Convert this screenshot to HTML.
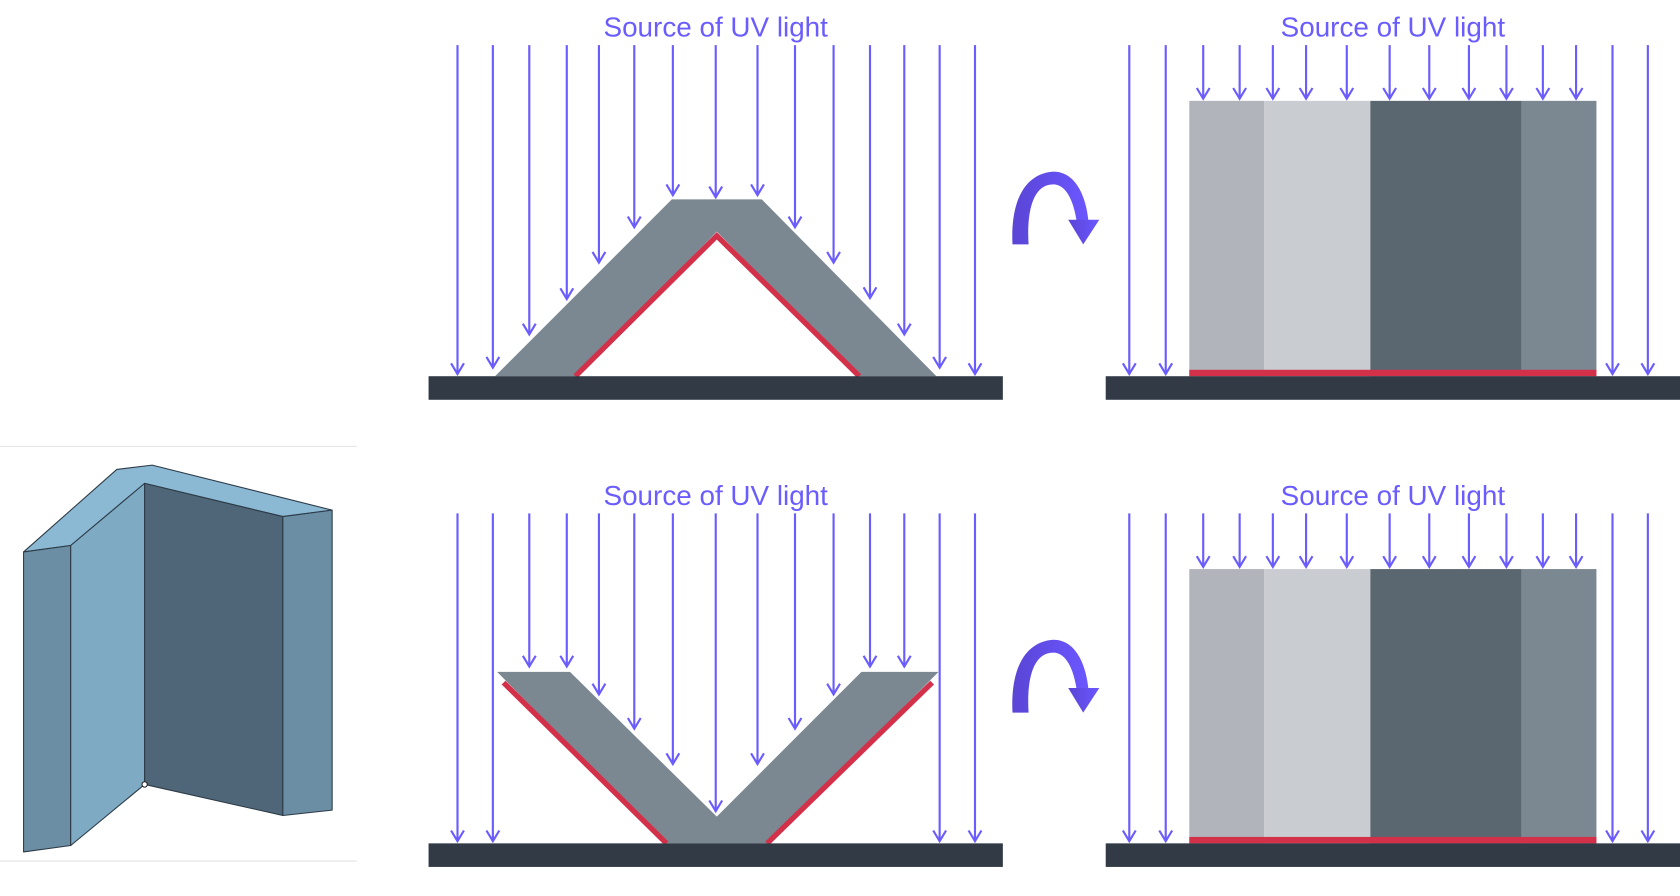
<!DOCTYPE html>
<html><head><meta charset="utf-8"><style>
html,body{margin:0;padding:0;background:#fff;width:1680px;height:896px;overflow:hidden}
svg{display:block}
text{font-family:"Liberation Sans",sans-serif;font-size:26px;fill:#6a5cff}
</style></head><body>
<svg width="1680" height="896" viewBox="0 0 1568 836" xmlns="http://www.w3.org/2000/svg">
<defs>
<marker id="ah" viewBox="0 0 12 12" refX="6" refY="11" markerWidth="12" markerHeight="12" markerUnits="userSpaceOnUse" orient="auto-start-reverse">
</marker>
<linearGradient id="rg" x1="0" x2="1" y1="0" y2="0"><stop offset="0" stop-color="#5a45d6"/><stop offset="1" stop-color="#6b57ff"/></linearGradient>
</defs>

<!-- Left 3D part -->
<line x1="0" y1="416.5" x2="333" y2="416.5" stroke="#e2e2e2"/>
<line x1="0" y1="803.5" x2="333" y2="803.5" stroke="#e2e2e2"/>
<g stroke="#2c3a46" stroke-width="1" stroke-linejoin="round">
<polygon points="22,515 109,438 142,434 310,476 264,482 135,451 66,509" fill="#8bb8d2"/>
<polygon points="22,515 66,509 66,789 22,795" fill="#6b8ea5"/>
<polygon points="66,509 135,451 135,732 66,789" fill="#7eaac4"/>
<polygon points="135,451 264,482 264,761 135,732" fill="#4e6677"/>
<polygon points="264,482 310,476 310,756 264,761" fill="#6b8ea5"/>
</g>
<circle cx="135" cy="732" r="2.5" fill="#fff" stroke="#222" stroke-width="1"/>

<!-- Top-left panel -->
<text x="668" y="34" text-anchor="middle">Source of UV light</text>
<polygon points="462,351 627,186 711,186 874,351 802,351 669,216 537,351" fill="#7b8791"/>
<polyline points="537,351 669,220 802,351" fill="none" stroke="#d3304a" stroke-width="5"/>
<rect x="400" y="351" width="536" height="22" fill="#323a46"/>
<g stroke="#6a5cff" stroke-width="2" fill="none">
<path d="M427 42V349M460 42V343M494 42V312M529 42V279M559 42V245M592 42V212M628 42V182M668 42V184M707 42V182M742 42V212M778 42V245M812 42V278M844 42V312M877 42V343M910 42V349"/>
<path d="M421 339l6 10 6-10M454 333l6 10 6-10M488 302l6 10 6-10M523 269l6 10 6-10M553 235l6 10 6-10M586 202l6 10 6-10M622 172l6 10 6-10M662 174l6 10 6-10M701 172l6 10 6-10M736 202l6 10 6-10M772 235l6 10 6-10M806 268l6 10 6-10M838 302l6 10 6-10M871 333l6 10 6-10M904 339l6 10 6-10"/>
</g>

<!-- Top-right panel -->
<text x="1300" y="34" text-anchor="middle">Source of UV light</text>
<rect x="1110" y="94" width="70" height="257" fill="#b1b5bb"/>
<rect x="1180" y="94" width="99" height="257" fill="#c9ccd1"/>
<rect x="1279" y="94" width="141" height="257" fill="#5a6670"/>
<rect x="1420" y="94" width="70" height="257" fill="#7b8791"/>
<rect x="1110" y="345" width="380" height="6" fill="#d3304a"/>
<rect x="1032" y="351" width="536" height="22" fill="#323a46"/>
<g stroke="#6a5cff" stroke-width="2" fill="none">
<path d="M1054 42V349M1088 42V349M1505 42V349M1538 42V349M1123 42V92M1157 42V92M1188 42V92M1219 42V92M1257 42V92M1297 42V92M1334 42V92M1371 42V92M1406 42V92M1440 42V92M1471 42V92"/>
<path d="M1048 339l6 10 6-10M1082 339l6 10 6-10M1499 339l6 10 6-10M1532 339l6 10 6-10M1117 82l6 10 6-10M1151 82l6 10 6-10M1182 82l6 10 6-10M1213 82l6 10 6-10M1251 82l6 10 6-10M1291 82l6 10 6-10M1328 82l6 10 6-10M1365 82l6 10 6-10M1400 82l6 10 6-10M1434 82l6 10 6-10M1465 82l6 10 6-10"/>
</g>

<!-- rotation arrows -->
<g fill="url(#rg)">
<path d="M945 228 C943 190 955 162 983 160 C1005 160 1014 185 1016 207 L1005 207 C1002 187 995 172 983 172 C965 172 958 195 960 228 Z"/>
<polygon points="997,205 1026,205 1011,228"/>
</g>
<g fill="url(#rg)" transform="translate(0,437)">
<path d="M945 228 C943 190 955 162 983 160 C1005 160 1014 185 1016 207 L1005 207 C1002 187 995 172 983 172 C965 172 958 195 960 228 Z"/>
<polygon points="997,205 1026,205 1011,228"/>
</g>

<!-- Bottom-left panel -->
<text x="668" y="471" text-anchor="middle">Source of UV light</text>
<polygon points="464,627 532,627 669,762 804,627 876,627 716,787 622,787" fill="#7b8791"/>
<line x1="470" y1="637" x2="622" y2="787" stroke="#d3304a" stroke-width="5"/>
<line x1="716" y1="787" x2="870" y2="637" stroke="#d3304a" stroke-width="5"/>
<rect x="400" y="787" width="536" height="22" fill="#323a46"/>
<g stroke="#6a5cff" stroke-width="2" fill="none">
<path d="M427 479V785M460 479V785M494 479V622M529 479V622M559 479V648M592 479V680M628 479V713M668 479V757M707 479V713M742 479V680M778 479V648M812 479V622M844 479V622M877 479V785M910 479V785"/>
<path d="M421 775l6 10 6-10M454 775l6 10 6-10M488 612l6 10 6-10M523 612l6 10 6-10M553 638l6 10 6-10M586 670l6 10 6-10M622 703l6 10 6-10M662 747l6 10 6-10M701 703l6 10 6-10M736 670l6 10 6-10M772 638l6 10 6-10M806 612l6 10 6-10M838 612l6 10 6-10M871 775l6 10 6-10M904 775l6 10 6-10"/>
</g>

<!-- Bottom-right panel -->
<text x="1300" y="471" text-anchor="middle">Source of UV light</text>
<rect x="1110" y="531" width="70" height="256" fill="#b1b5bb"/>
<rect x="1180" y="531" width="99" height="256" fill="#c9ccd1"/>
<rect x="1279" y="531" width="141" height="256" fill="#5a6670"/>
<rect x="1420" y="531" width="70" height="256" fill="#7b8791"/>
<rect x="1110" y="781" width="380" height="6" fill="#d3304a"/>
<rect x="1032" y="787" width="536" height="22" fill="#323a46"/>
<g stroke="#6a5cff" stroke-width="2" fill="none">
<path d="M1054 479V785M1088 479V785M1505 479V785M1538 479V785M1123 479V529M1157 479V529M1188 479V529M1219 479V529M1257 479V529M1297 479V529M1334 479V529M1371 479V529M1406 479V529M1440 479V529M1471 479V529"/>
<path d="M1048 775l6 10 6-10M1082 775l6 10 6-10M1499 775l6 10 6-10M1532 775l6 10 6-10M1117 519l6 10 6-10M1151 519l6 10 6-10M1182 519l6 10 6-10M1213 519l6 10 6-10M1251 519l6 10 6-10M1291 519l6 10 6-10M1328 519l6 10 6-10M1365 519l6 10 6-10M1400 519l6 10 6-10M1434 519l6 10 6-10M1465 519l6 10 6-10"/>
</g>
</svg>
</body></html>
